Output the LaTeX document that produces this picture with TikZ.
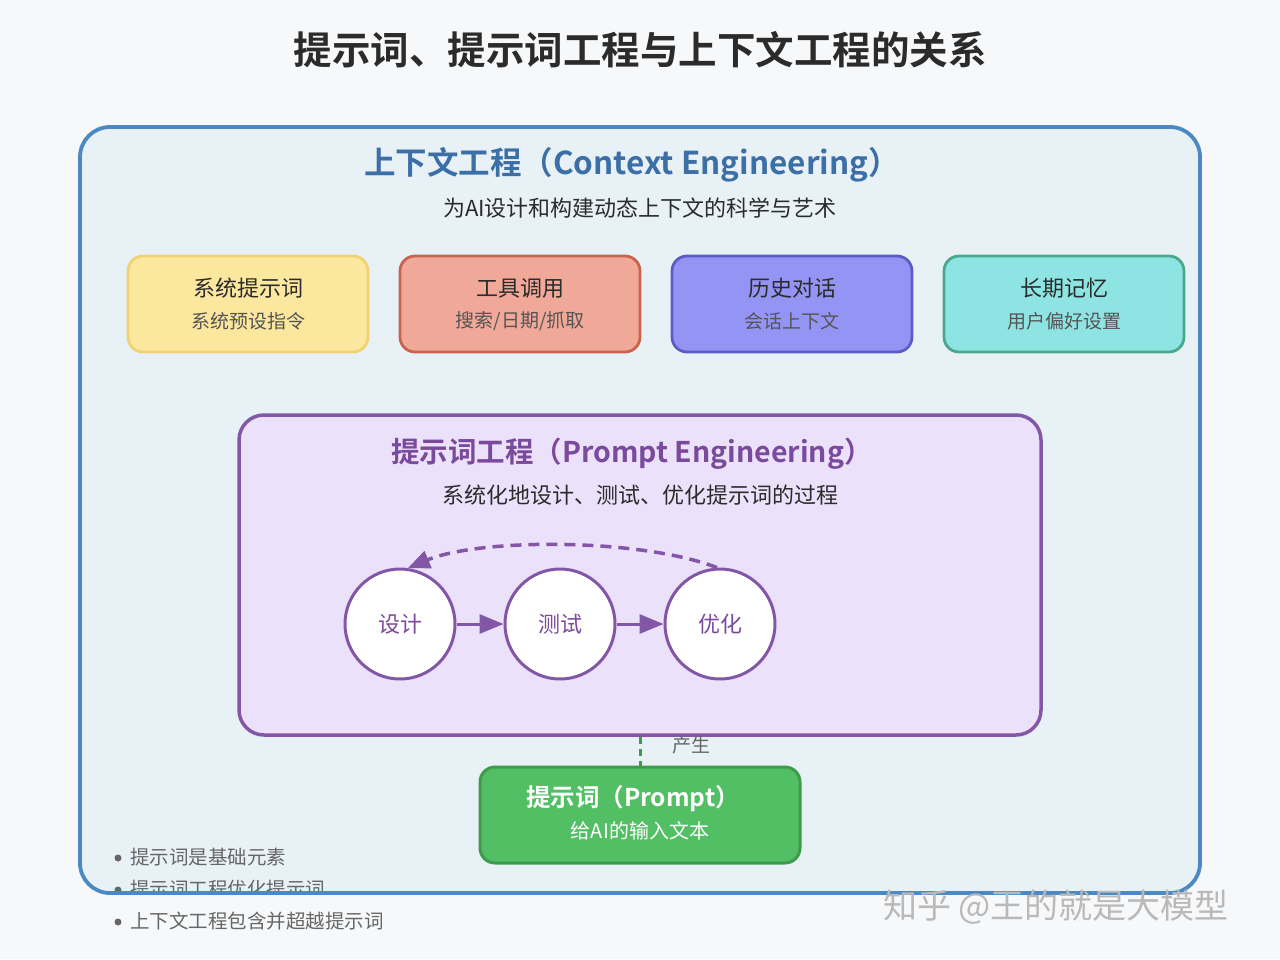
\documentclass[tikz,border=0pt]{standalone}
\usepackage{fontspec}
\setmainfont{Noto Sans CJK SC}[BoldFont={Noto Sans CJK SC Bold}]
\usetikzlibrary{arrows.meta}
\definecolor{bgc}{HTML}{F6F8FA}
\definecolor{outerfill}{HTML}{E8F2F6}
\definecolor{outerline}{HTML}{4A89C2}
\definecolor{ctxblue}{HTML}{3C6FA6}
\definecolor{darktext}{HTML}{2B2B2B}
\definecolor{subgray}{HTML}{555555}
\definecolor{yfill}{HTML}{FBE79E}
\definecolor{yline}{HTML}{F0D274}
\definecolor{rfill}{HTML}{F0A898}
\definecolor{rline}{HTML}{C8644E}
\definecolor{pfill}{HTML}{9494F4}
\definecolor{pline}{HTML}{5C5CC8}
\definecolor{tfill}{HTML}{8EE4E2}
\definecolor{tline}{HTML}{4AA88E}
\definecolor{pefill}{HTML}{ECE1FA}
\definecolor{peline}{HTML}{8356A6}
\definecolor{petext}{HTML}{7A4A9C}
\definecolor{gfill}{HTML}{53BF64}
\definecolor{gline}{HTML}{3E9A4D}
\definecolor{bulgray}{HTML}{666666}
\tikzset{
  cardbox/.style={rounded corners=15pt, line width=2.8pt, minimum width=240pt, minimum height=96pt, inner sep=0pt},
  cardtitle/.style={font=\fontsize{22}{26}\selectfont, text=darktext},
  cardsub/.style={font=\fontsize{19}{23}\selectfont, text=subgray},
  stepcircle/.style={circle, draw=peline, fill=white, line width=3pt, minimum size=110pt, inner sep=0pt, font=\fontsize{22}{26}\selectfont, text=petext},
  flowarrow/.style={draw=peline, line width=3pt, -{Triangle[length=24pt,width=19pt]}},
  bullettext/.style={anchor=west, font=\fontsize{19.5}{23}\selectfont, text=bulgray, inner sep=0pt},
  bulletdot/.style={circle, fill=bulgray, minimum size=7pt, inner sep=0pt},
}
\begin{document}
\begin{tikzpicture}[x=1pt,y=-1pt]
\useasboundingbox (0,0) rectangle (1280,959);
\fill[bgc] (0,0) rectangle (1280,959);
% title
\node[font=\fontsize{38.5}{43}\bfseries\selectfont, text=darktext] (title) at (640,50) {提示词、提示词工程与上下文工程的关系};
% outer box fill
\fill[outerfill, rounded corners=30pt] (80,127) rectangle (1200,893);
\node[font=\fontsize{31.5}{36}\bfseries\selectfont, text=ctxblue] (ctxtitle) at (632,165) {上下文工程（Context Engineering）};
\node[font=\fontsize{22}{26}\selectfont, text=darktext] (ctxsub) at (640,208) {为AI设计和构建动态上下文的科学与艺术};
% four cards
\node[cardbox, draw=yline, fill=yfill] (b1) at (248,304) {};
\node[cardtitle] at (248,288) {系统提示词};
\node[cardsub] at (248,321) {系统预设指令};
\node[cardbox, draw=rline, fill=rfill] (b2) at (520,304) {};
\node[cardtitle] at (520,288) {工具调用};
\node[cardsub] at (520,321) {搜索/日期/抓取};
\node[cardbox, draw=pline, fill=pfill] (b3) at (792,304) {};
\node[cardtitle] at (792,288) {历史对话};
\node[cardsub] at (792,321) {会话上下文};
\node[cardbox, draw=tline, fill=tfill] (b4) at (1064,304) {};
\node[cardtitle] at (1064,288) {长期记忆};
\node[cardsub] at (1064,321) {用户偏好设置};
% prompt engineering box
\node[rounded corners=25pt, draw=peline, fill=pefill, line width=3.5pt, minimum width=802pt, minimum height=320pt, inner sep=0pt] (pe) at (640,575) {};
\node[font=\fontsize{28.5}{32}\bfseries\selectfont, text=petext] (petitle) at (632,454) {提示词工程（Prompt Engineering）};
\node[font=\fontsize{22}{26}\selectfont, text=darktext] (pesub) at (640,495) {系统化地设计、测试、优化提示词的过程};
% circles
\node[stepcircle] (c1) at (400,624) {设计};
\node[stepcircle] (c2) at (560,624) {测试};
\node[stepcircle] (c3) at (720,624) {优化};
\draw[flowarrow] (c1.east) -- (c2.west);
\draw[flowarrow] (c2.east) -- (c3.west);
\draw[draw=peline, line width=3.5pt, dash pattern=on 11pt off 7pt, -{Triangle[length=22pt,width=18pt]}] (c3.93) .. controls (640,538) and (480,538) .. (c1.82);
% green prompt box
\node[rounded corners=15pt, draw=gline, fill=gfill, line width=3pt, minimum width=320pt, minimum height=96pt, inner sep=0pt] (pr) at (640,815) {};
\node[font=\fontsize{24.5}{28}\bfseries\selectfont, text=white] (prtitle) at (633,799) {提示词（Prompt）};
\node[font=\fontsize{20}{24}\selectfont, text=white] (prsub) at (640,831) {给AI的输入文本};
\draw[gline, line width=3pt, dash pattern=on 7pt off 5pt] (pe.south) -- (pr.north);
\node[font=\fontsize{19}{23}\selectfont, text=bulgray] (gen) at (691,745) {产生};
% bullets
\node[bulletdot] (d1) at (118,858) {};
\node[bullettext] (t1) at (130,857) {提示词是基础元素};
\begin{scope}
\clip[rounded corners=30pt] (80,127) rectangle (1200,893);
\node[bulletdot] (d2) at (118,890) {};
\node[bullettext] (t2) at (130,889) {提示词工程优化提示词};
\end{scope}
\node[bulletdot] (d3) at (118,922) {};
\node[bullettext] (t3) at (130,921) {上下文工程包含并超越提示词};
% outer border
\draw[outerline, line width=3.8pt, rounded corners=30pt] (80,127) rectangle (1200,893);
% watermark
\node[font=\fontsize{34}{38}\selectfont, text=gray!55] (wm) at (1056,907) {知乎 @王的就是大模型};
\end{tikzpicture}
\end{document}
